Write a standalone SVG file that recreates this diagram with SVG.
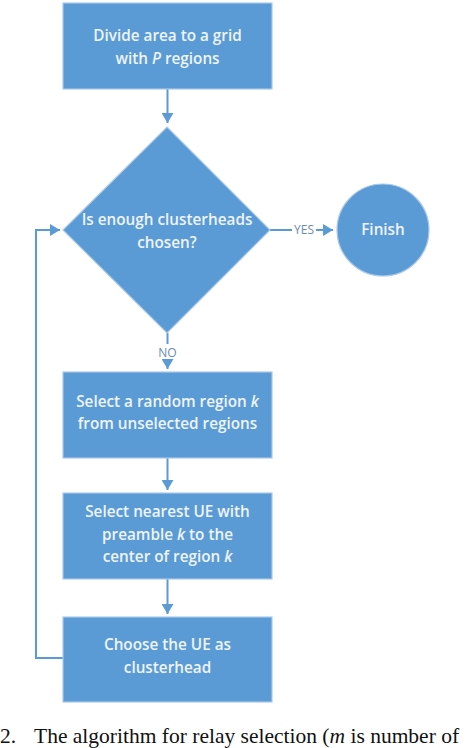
<svg xmlns="http://www.w3.org/2000/svg" width="468" height="748" viewBox="0 0 468 748">
<defs>
<marker id="ah" viewBox="0 0 10 12" refX="10" refY="6" markerWidth="10" markerHeight="12" orient="auto" markerUnits="userSpaceOnUse">
<path d="M0,0 L10,6 L0,12 z" fill="#5B9BD5"/>
</marker>
</defs>
<style>
.shape{fill:#5B9BD5;stroke:#A9C9EA;stroke-width:1.2}
.lbl{font-family:"Open Sans","Noto Sans","Liberation Sans",sans-serif;font-size:15.3px;font-weight:600;fill:#EEF4FB;text-anchor:middle}
.edge{fill:none;stroke:#5B9BD5;stroke-width:2}
.el{font-family:"Open Sans","Liberation Sans",sans-serif;font-size:12px;fill:#6A8BB0;text-anchor:middle}
.cap{font-family:"Liberation Serif",serif;font-size:21.5px;fill:#111}
</style>
<rect width="468" height="748" fill="#fff"/>
<g id="connectors">
<line class="edge" x1="167.5" y1="89" x2="167.5" y2="123" marker-end="url(#ah)"/>
<line class="edge" x1="270" y1="230" x2="292" y2="230"/>
<line class="edge" x1="316" y1="230" x2="333" y2="230" marker-end="url(#ah)"/>
<line class="edge" x1="167.5" y1="333" x2="167.5" y2="344"/>
<line class="edge" x1="167.5" y1="362" x2="167.5" y2="369" marker-end="url(#ah)"/>
<line class="edge" x1="167.5" y1="458" x2="167.5" y2="490" marker-end="url(#ah)"/>
<line class="edge" x1="167.5" y1="579" x2="167.5" y2="614" marker-end="url(#ah)"/>
<path class="edge" d="M63,658 H36 V230 H60" stroke-width="1.6" marker-end="url(#ah)"/>
<text class="el" x="304" y="234">YES</text>
<text class="el" x="167.5" y="357">NO</text>
</g>
<g id="n1">
<rect class="shape" x="63" y="3" width="209" height="86"/>
<text class="lbl" x="167.5" y="41">Divide area to a grid</text>
<text class="lbl" x="167.5" y="64">with <tspan font-style="italic">P</tspan> regions</text>
</g>
<g id="n2">
<polygon class="shape" points="167,127 270,230 167,333 63,230"/>
<text class="lbl" x="167" y="225">Is enough clusterheads</text>
<text class="lbl" x="167" y="248">chosen?</text>
</g>
<g id="n3">
<circle class="shape" cx="383" cy="230" r="46"/>
<text class="lbl" x="383" y="235">Finish</text>
</g>
<g id="n4">
<rect class="shape" x="63" y="372" width="209" height="86"/>
<text class="lbl" x="167.5" y="407">Select a random region <tspan font-style="italic">k</tspan></text>
<text class="lbl" x="167.5" y="429">from unselected regions</text>
</g>
<g id="n5">
<rect class="shape" x="63" y="493" width="209" height="86"/>
<text class="lbl" x="167.5" y="517">Select nearest UE with</text>
<text class="lbl" x="167.5" y="540">preamble <tspan font-style="italic">k</tspan> to the</text>
<text class="lbl" x="167.5" y="562">center of region <tspan font-style="italic">k</tspan></text>
</g>
<g id="n6">
<rect class="shape" x="63" y="617" width="209" height="85"/>
<text class="lbl" x="167.5" y="650">Choose the UE as</text>
<text class="lbl" x="167.5" y="673">clusterhead</text>
</g>
<text class="cap" x="0" y="743">2.<tspan x="34">The algorithm for relay selection (<tspan font-style="italic">m</tspan> is number of</tspan></text>
</svg>
